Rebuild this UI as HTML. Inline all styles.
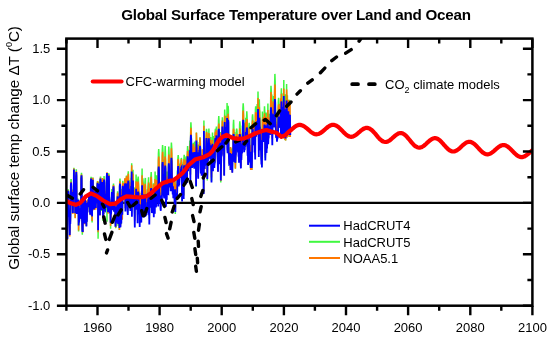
<!DOCTYPE html>
<html><head><meta charset="utf-8"><style>
html,body{margin:0;padding:0;background:#fff;width:550px;height:340px;overflow:hidden}
svg{display:block;font-family:"Liberation Sans",sans-serif;will-change:transform}
</style></head><body>
<svg width="550" height="340" viewBox="0 0 550 340">
<defs><clipPath id="pc"><rect x="66.4" y="38.6" width="466" height="267.1"/></clipPath></defs>
<g clip-path="url(#pc)">
<line x1="66.4" y1="202.9" x2="532.4" y2="202.9" stroke="#000" stroke-width="2.4"/>
<polyline points="66.4,213.5 66.7,223.7 66.9,208.7 67.2,209.4 67.4,238.3 67.7,202.7 68.0,191.6 68.2,189.4 68.5,191.6 68.7,207.8 69.0,215.1 69.3,213.7 69.5,217.5 69.8,233.0 70.0,211.6 70.3,222.2 70.6,208.4 70.8,183.9 71.1,179.1 71.3,183.9 71.6,201.9 71.9,191.9 72.1,192.3 72.4,195.3 72.6,191.0 72.9,212.1 73.2,189.3 73.4,194.1 73.7,192.8 73.9,167.8 74.2,191.9 74.5,200.8 74.7,189.6 75.0,190.6 75.2,217.7 75.5,203.0 75.8,194.3 76.0,173.9 76.3,169.4 76.5,173.9 76.8,213.1 77.1,199.2 77.3,202.2 77.6,197.9 77.8,211.6 78.1,212.8 78.4,200.3 78.6,231.5 78.9,206.2 79.1,224.4 79.4,219.8 79.7,208.9 79.9,211.9 80.2,219.1 80.4,212.2 80.7,216.4 81.0,209.6 81.2,176.7 81.5,172.9 81.7,176.7 82.0,221.2 82.3,234.7 82.5,219.8 82.8,231.9 83.0,201.6 83.3,205.5 83.6,215.3 83.8,203.6 84.1,214.6 84.3,196.4 84.6,224.0 84.9,206.9 85.1,196.3 85.4,210.6 85.6,201.4 85.9,212.4 86.2,211.5 86.4,225.7 86.7,203.8 86.9,222.0 87.2,204.4 87.5,209.3 87.7,206.4 88.0,200.8 88.2,200.0 88.5,199.3 88.8,201.9 89.0,195.1 89.3,200.7 89.5,211.3 89.8,211.9 90.1,213.6 90.3,212.8 90.6,213.5 90.8,179.7 91.1,176.8 91.4,179.7 91.6,206.5 91.9,209.9 92.1,222.4 92.4,179.3 92.7,181.5 92.9,177.5 93.2,205.0 93.4,203.7 93.7,196.2 94.0,210.0 94.2,206.3 94.5,195.3 94.7,206.9 95.0,188.1 95.3,189.4 95.5,194.4 95.8,207.7 96.0,203.4 96.3,190.4 96.6,202.8 96.8,191.8 97.1,194.1 97.3,183.7 97.6,181.2 97.9,183.7 98.1,238.8 98.4,198.8 98.6,181.8 98.9,191.6 99.2,184.7 99.4,195.4 99.7,192.4 99.9,215.1 100.2,179.7 100.5,176.5 100.7,179.7 101.0,184.9 101.2,204.2 101.5,203.8 101.8,210.9 102.0,202.0 102.3,207.5 102.5,180.0 102.8,205.8 103.1,221.1 103.3,207.5 103.6,214.6 103.8,180.9 104.1,176.1 104.4,180.9 104.6,192.4 104.9,208.7 105.1,210.7 105.4,206.8 105.7,197.2 105.9,202.7 106.2,192.6 106.4,210.3 106.7,174.8 107.0,221.8 107.2,174.8 107.5,207.6 107.7,196.3 108.0,212.0 108.3,198.0 108.5,177.5 108.8,173.2 109.0,177.5 109.3,196.5 109.6,199.7 109.8,212.6 110.1,202.6 110.3,203.3 110.6,228.8 110.9,210.8 111.1,215.6 111.4,203.1 111.6,202.8 111.9,188.9 112.2,206.5 112.4,203.4 112.7,207.4 112.9,205.9 113.2,186.5 113.5,183.5 113.7,186.5 114.0,211.2 114.2,202.5 114.5,203.0 114.8,212.0 115.0,204.2 115.3,215.9 115.5,225.7 115.8,228.2 116.1,202.7 116.3,210.0 116.6,211.1 116.8,219.1 117.1,212.6 117.4,195.3 117.6,191.4 117.9,195.3 118.1,225.7 118.4,213.5 118.7,208.8 118.9,215.1 119.2,219.4 119.4,230.1 119.7,182.5 120.0,178.6 120.2,182.5 120.5,222.4 120.7,214.2 121.0,215.8 121.3,224.1 121.5,202.4 121.8,189.0 122.0,199.5 122.3,218.9 122.6,183.9 122.8,180.7 123.1,183.9 123.3,190.9 123.6,190.0 123.9,189.9 124.1,183.8 124.4,184.6 124.6,193.4 124.9,178.4 125.2,187.3 125.4,208.2 125.7,185.3 125.9,182.9 126.2,179.4 126.5,175.5 126.7,181.0 127.0,189.9 127.2,193.5 127.5,204.0 127.8,212.9 128.0,175.9 128.3,171.2 128.5,175.9 128.8,195.6 129.1,180.0 129.3,196.8 129.6,190.8 129.8,191.3 130.1,197.2 130.4,204.9 130.6,189.4 130.9,188.2 131.1,179.1 131.4,179.3 131.7,163.2 131.9,207.7 132.2,188.5 132.4,183.5 132.7,182.4 133.0,169.8 133.2,187.1 133.5,189.9 133.7,188.0 134.0,192.6 134.3,187.5 134.5,201.4 134.8,218.2 135.0,189.7 135.3,187.6 135.6,189.7 135.8,199.2 136.1,174.5 136.3,197.6 136.6,191.5 136.9,178.7 137.1,191.7 137.4,192.7 137.6,215.2 137.9,179.8 138.2,176.5 138.4,179.8 138.7,189.3 138.9,202.3 139.2,198.7 139.5,192.8 139.7,220.7 140.0,199.1 140.2,200.3 140.5,198.2 140.8,195.9 141.0,203.8 141.3,209.5 141.5,194.8 141.8,192.4 142.1,168.5 142.3,200.4 142.6,181.8 142.8,178.2 143.1,181.8 143.4,202.8 143.6,203.9 143.9,202.8 144.1,205.0 144.4,205.7 144.7,205.7 144.9,182.2 145.2,178.7 145.4,178.1 145.7,206.3 146.0,198.8 146.2,205.2 146.5,200.8 146.7,197.7 147.0,194.9 147.3,199.8 147.5,189.1 147.8,199.6 148.0,187.5 148.3,182.4 148.6,177.2 148.8,203.1 149.1,184.0 149.3,218.8 149.6,186.6 149.9,191.5 150.1,197.2 150.4,182.4 150.6,189.7 150.9,176.2 151.2,172.1 151.4,176.2 151.7,191.0 151.9,204.2 152.2,195.2 152.5,199.7 152.7,194.6 153.0,197.8 153.2,193.3 153.5,183.2 153.8,208.5 154.0,190.6 154.3,199.4 154.5,198.6 154.8,200.9 155.1,171.5 155.3,195.0 155.6,193.9 155.8,198.4 156.1,193.9 156.4,179.3 156.6,175.4 156.9,179.3 157.1,190.0 157.4,192.0 157.7,185.8 157.9,184.2 158.2,196.9 158.4,154.0 158.7,149.1 159.0,154.0 159.2,181.4 159.5,184.3 159.7,192.7 160.0,191.8 160.3,189.5 160.5,200.5 160.8,203.2 161.0,181.5 161.3,184.8 161.6,194.3 161.8,188.2 162.1,182.7 162.3,150.0 162.6,145.0 162.9,150.0 163.1,179.9 163.4,159.6 163.6,170.0 163.9,184.0 164.2,189.1 164.4,184.9 164.7,186.5 164.9,154.7 165.2,146.1 165.5,154.7 165.7,180.8 166.0,199.3 166.2,183.4 166.5,194.1 166.8,189.3 167.0,171.5 167.3,184.0 167.5,183.4 167.8,178.7 168.1,184.2 168.3,186.0 168.6,153.0 168.8,146.6 169.1,153.0 169.4,176.8 169.6,175.5 169.9,179.4 170.1,177.5 170.4,170.1 170.7,183.1 170.9,177.7 171.2,147.6 171.4,142.5 171.7,147.6 172.0,170.7 172.2,179.1 172.5,182.4 172.7,187.3 173.0,177.9 173.3,191.5 173.5,189.4 173.8,185.5 174.0,190.3 174.3,187.0 174.6,198.2 174.8,183.0 175.1,179.7 175.3,214.1 175.6,196.4 175.9,189.6 176.1,190.1 176.4,188.0 176.6,184.3 176.9,194.0 177.2,188.1 177.4,170.4 177.7,173.4 177.9,158.4 178.2,155.0 178.5,158.4 178.7,180.5 179.0,173.1 179.2,180.8 179.5,170.5 179.8,163.6 180.0,172.0 180.3,167.9 180.5,166.9 180.8,166.1 181.1,160.8 181.3,158.0 181.6,159.2 181.8,172.0 182.1,200.6 182.4,174.6 182.6,177.8 182.9,193.0 183.1,178.2 183.4,162.3 183.7,195.2 183.9,159.4 184.2,154.8 184.4,159.4 184.7,157.2 185.0,170.4 185.2,172.7 185.5,180.7 185.7,167.9 186.0,171.2 186.3,156.1 186.5,165.3 186.8,178.5 187.0,180.3 187.3,153.1 187.6,146.1 187.8,153.1 188.1,168.4 188.3,160.4 188.6,160.6 188.9,155.4 189.1,149.7 189.4,160.3 189.6,150.2 189.9,140.4 190.2,152.0 190.4,174.3 190.7,127.7 190.9,122.4 191.2,127.7 191.5,151.7 191.7,157.5 192.0,157.2 192.2,162.4 192.5,156.4 192.8,153.8 193.0,146.2 193.3,142.8 193.5,147.8 193.8,161.0 194.1,160.6 194.3,163.2 194.6,141.6 194.8,155.5 195.1,147.1 195.4,144.4 195.6,147.1 195.9,146.1 196.1,186.7 196.4,132.4 196.7,141.8 196.9,150.2 197.2,148.0 197.4,150.3 197.7,153.3 198.0,158.4 198.2,176.9 198.5,145.1 198.7,157.5 199.0,154.6 199.3,142.1 199.5,147.0 199.8,140.7 200.0,137.4 200.3,140.7 200.6,162.4 200.8,171.1 201.1,156.2 201.3,164.9 201.6,173.6 201.9,154.0 202.1,167.0 202.4,149.8 202.6,163.5 202.9,172.0 203.2,153.0 203.4,164.1 203.7,193.1 203.9,120.4 204.2,153.8 204.5,155.3 204.7,165.4 205.0,151.7 205.2,158.8 205.5,161.4 205.8,154.6 206.0,147.7 206.3,132.7 206.5,128.8 206.8,131.7 207.1,134.8 207.3,180.4 207.6,156.9 207.8,147.0 208.1,143.7 208.4,154.2 208.6,153.1 208.9,128.6 209.1,137.3 209.4,134.1 209.7,137.3 209.9,152.7 210.2,141.0 210.4,148.4 210.7,137.1 211.0,147.3 211.2,156.5 211.5,181.2 211.7,154.1 212.0,146.0 212.3,145.9 212.5,132.4 212.8,163.9 213.0,165.1 213.3,135.9 213.6,147.0 213.8,157.2 214.1,155.5 214.3,165.2 214.6,159.3 214.9,157.9 215.1,131.7 215.4,128.8 215.6,131.7 215.9,128.5 216.2,135.2 216.4,126.4 216.7,138.7 216.9,135.5 217.2,141.6 217.5,152.1 217.7,157.3 218.0,168.7 218.2,147.1 218.5,121.0 218.8,116.1 219.0,121.0 219.3,144.5 219.5,153.1 219.8,161.6 220.1,154.9 220.3,141.0 220.6,132.1 220.8,182.4 221.1,163.5 221.4,148.7 221.6,154.2 221.9,150.4 222.1,124.5 222.4,117.2 222.7,124.5 222.9,145.9 223.2,145.7 223.4,142.4 223.7,136.5 224.0,145.4 224.2,174.5 224.5,123.0 224.7,109.5 225.0,119.1 225.3,130.6 225.5,132.2 225.8,132.0 226.0,130.7 226.3,115.7 226.6,121.3 226.8,122.1 227.1,103.0 227.3,142.5 227.6,146.5 227.9,110.0 228.1,105.9 228.4,110.0 228.6,146.6 228.9,152.3 229.2,162.8 229.4,162.8 229.7,152.8 229.9,152.2 230.2,147.4 230.5,167.9 230.7,148.3 231.0,156.6 231.2,150.9 231.5,154.2 231.8,148.5 232.0,151.3 232.3,171.3 232.5,158.2 232.8,147.7 233.1,154.4 233.3,125.1 233.6,119.8 233.8,125.1 234.1,143.5 234.4,159.8 234.6,132.0 234.9,154.0 235.1,157.1 235.4,168.8 235.7,151.6 235.9,151.0 236.2,139.0 236.4,130.6 236.7,128.5 237.0,130.6 237.2,135.7 237.5,137.6 237.7,136.7 238.0,142.8 238.3,134.5 238.5,148.5 238.8,149.9 239.0,155.5 239.3,157.6 239.6,124.7 239.8,121.3 240.1,124.7 240.3,146.9 240.6,156.4 240.9,165.7 241.1,140.6 241.4,155.9 241.6,145.5 241.9,134.3 242.2,145.7 242.4,125.4 242.7,135.5 242.9,108.3 243.2,103.3 243.5,108.3 243.7,141.1 244.0,135.2 244.2,143.5 244.5,123.2 244.8,140.9 245.0,128.3 245.3,139.4 245.5,134.9 245.8,117.8 246.1,134.8 246.3,122.2 246.6,116.6 246.8,111.2 247.1,116.6 247.4,135.0 247.6,149.2 247.9,141.4 248.1,159.9 248.4,147.4 248.7,141.6 248.9,125.5 249.2,122.8 249.4,125.5 249.7,147.0 250.0,153.5 250.2,154.4 250.5,157.0 250.7,170.0 251.0,149.6 251.3,146.8 251.5,144.8 251.8,170.1 252.0,153.7 252.3,117.4 252.6,114.4 252.8,117.4 253.1,124.4 253.3,125.7 253.6,137.2 253.9,122.8 254.1,121.3 254.4,132.5 254.6,144.2 254.9,129.3 255.2,154.9 255.4,110.4 255.7,106.4 255.9,110.4 256.2,121.8 256.5,114.5 256.7,119.2 257.0,111.2 257.2,104.1 257.5,110.2 257.8,112.6 258.0,91.5 258.3,108.4 258.5,114.5 258.8,148.8 259.1,113.0 259.3,99.3 259.6,112.9 259.8,110.5 260.1,125.7 260.4,144.8 260.6,132.1 260.9,128.6 261.1,144.3 261.4,160.4 261.7,135.5 261.9,166.9 262.2,140.8 262.4,111.5 262.7,124.3 263.0,119.2 263.2,118.6 263.5,127.2 263.7,123.4 264.0,132.4 264.3,111.9 264.5,106.2 264.8,111.9 265.0,123.6 265.3,157.7 265.6,142.1 265.8,115.0 266.1,112.6 266.3,114.8 266.6,146.1 266.9,128.2 267.1,142.5 267.4,121.0 267.6,122.4 267.9,103.4 268.2,134.4 268.4,127.8 268.7,123.0 268.9,116.1 269.2,113.8 269.5,116.1 269.7,120.7 270.0,123.0 270.2,120.7 270.5,112.4 270.8,91.2 271.0,85.8 271.3,91.5 271.5,109.7 271.8,94.4 272.1,121.8 272.3,136.1 272.6,106.1 272.8,111.3 273.1,108.7 273.4,104.4 273.6,95.9 273.9,112.8 274.1,100.6 274.4,100.5 274.7,81.9 274.9,73.9 275.2,81.9 275.4,108.7 275.7,113.4 276.0,125.3 276.2,124.8 276.5,126.5 276.7,125.5 277.0,131.6 277.3,121.4 277.5,129.8 277.8,117.3 278.0,126.5 278.3,102.1 278.6,97.7 278.8,102.1 279.1,107.5 279.3,103.8 279.6,106.7 279.9,112.2 280.1,112.6 280.4,110.0 280.6,111.9 280.9,136.0 281.2,93.4 281.4,88.2 281.7,110.2 281.9,137.1 282.2,114.0 282.5,137.2 282.7,109.1 283.0,137.1 283.2,93.2 283.5,137.8 283.8,80.0 284.0,138.6 284.3,111.4 284.5,138.0 284.8,111.2 285.1,140.1 285.3,94.2 285.6,140.6 285.8,112.8 286.1,136.5 286.4,115.5 286.6,84.1 286.9,113.1 287.1,137.6 287.4,95.2 287.7,134.6 287.9,114.3 288.2,134.4 288.4,113.3 288.7,134.8 289.0,117.2 289.2,137.1 289.5,99.7 289.7,133.7 290.0,116.9 290.3,136.9" fill="none" stroke="#40f840" stroke-width="1.5"/>
<polyline points="66.4,217.3 66.7,221.9 66.9,209.2 67.2,207.7 67.4,240.1 67.7,200.8 68.0,192.7 68.2,190.5 68.5,192.7 68.7,208.7 69.0,214.7 69.3,213.1 69.5,216.9 69.8,236.5 70.0,213.5 70.3,223.2 70.6,210.5 70.8,185.2 71.1,181.9 71.3,185.2 71.6,203.3 71.9,190.4 72.1,194.7 72.4,195.5 72.6,190.4 72.9,214.1 73.2,190.7 73.4,194.6 73.7,190.7 73.9,168.6 74.2,190.6 74.5,197.7 74.7,187.3 75.0,193.2 75.2,218.2 75.5,201.6 75.8,197.9 76.0,175.5 76.3,171.2 76.5,175.5 76.8,213.8 77.1,202.0 77.3,204.3 77.6,201.2 77.8,209.2 78.1,212.6 78.4,200.5 78.6,230.6 78.9,203.2 79.1,222.4 79.4,218.2 79.7,209.8 79.9,213.1 80.2,218.4 80.4,214.6 80.7,217.7 81.0,211.6 81.2,178.2 81.5,174.5 81.7,178.2 82.0,219.0 82.3,230.5 82.5,221.4 82.8,232.5 83.0,202.7 83.3,203.7 83.6,216.1 83.8,205.6 84.1,214.8 84.3,202.6 84.6,224.3 84.9,202.9 85.1,195.0 85.4,207.2 85.6,199.9 85.9,212.4 86.2,212.1 86.4,225.9 86.7,205.0 86.9,220.8 87.2,200.6 87.5,204.8 87.7,204.8 88.0,204.8 88.2,199.6 88.5,202.2 88.8,202.4 89.0,195.0 89.3,201.3 89.5,211.7 89.8,210.7 90.1,214.3 90.3,213.1 90.6,215.1 90.8,180.8 91.1,178.2 91.4,180.8 91.6,204.8 91.9,210.6 92.1,220.9 92.4,181.2 92.7,184.2 92.9,177.7 93.2,210.2 93.4,201.8 93.7,195.4 94.0,209.8 94.2,202.2 94.5,199.6 94.7,204.3 95.0,190.3 95.3,189.8 95.5,197.0 95.8,209.7 96.0,203.0 96.3,195.8 96.6,203.9 96.8,192.0 97.1,199.5 97.3,184.8 97.6,181.4 97.9,184.8 98.1,232.3 98.4,194.8 98.6,184.7 98.9,196.7 99.2,185.1 99.4,196.6 99.7,192.0 99.9,215.6 100.2,181.0 100.5,177.9 100.7,181.0 101.0,186.8 101.2,206.0 101.5,203.0 101.8,210.0 102.0,202.8 102.3,208.9 102.5,178.1 102.8,205.4 103.1,218.8 103.3,209.4 103.6,216.0 103.8,182.2 104.1,179.0 104.4,182.2 104.6,193.4 104.9,210.5 105.1,211.3 105.4,204.8 105.7,196.6 105.9,201.7 106.2,191.0 106.4,208.0 106.7,176.3 107.0,172.3 107.2,176.3 107.5,207.9 107.7,198.7 108.0,213.8 108.3,198.9 108.5,179.0 108.8,174.9 109.0,179.0 109.3,198.1 109.6,201.8 109.8,212.7 110.1,207.9 110.3,205.2 110.6,225.9 110.9,207.0 111.1,217.2 111.4,204.4 111.6,203.1 111.9,194.2 112.2,205.6 112.4,201.7 112.7,209.0 112.9,206.0 113.2,187.9 113.5,185.0 113.7,187.9 114.0,210.8 114.2,205.6 114.5,201.6 114.8,209.9 115.0,210.5 115.3,215.4 115.5,225.0 115.8,227.3 116.1,203.3 116.3,206.8 116.6,213.3 116.8,220.1 117.1,212.6 117.4,196.3 117.6,192.8 117.9,196.3 118.1,222.8 118.4,215.3 118.7,212.6 118.9,218.1 119.2,215.9 119.4,230.1 119.7,184.1 120.0,181.2 120.2,184.1 120.5,225.4 120.7,217.0 121.0,216.2 121.3,219.1 121.5,203.8 121.8,190.5 122.0,197.3 122.3,219.7 122.6,185.4 122.8,182.9 123.1,185.4 123.3,190.4 123.6,191.0 123.9,190.1 124.1,186.7 124.4,183.5 124.6,196.0 124.9,178.3 125.2,186.9 125.4,208.2 125.7,184.7 125.9,184.7 126.2,181.9 126.5,176.4 126.7,182.0 127.0,195.1 127.2,197.0 127.5,207.6 127.8,210.6 128.0,178.7 128.3,173.7 128.5,178.7 128.8,198.2 129.1,182.1 129.3,195.0 129.6,194.9 129.8,192.7 130.1,198.0 130.4,207.7 130.6,194.6 130.9,189.1 131.1,182.3 131.4,182.1 131.7,165.2 131.9,206.6 132.2,192.0 132.4,184.6 132.7,189.7 133.0,173.4 133.2,189.9 133.5,187.2 133.7,192.5 134.0,195.5 134.3,190.9 134.5,200.9 134.8,220.7 135.0,192.4 135.3,189.5 135.6,192.4 135.8,201.2 136.1,181.2 136.3,200.8 136.6,195.4 136.9,182.2 137.1,194.1 137.4,193.4 137.6,209.4 137.9,184.3 138.2,181.6 138.4,184.3 138.7,191.5 138.9,204.4 139.2,194.7 139.5,192.8 139.7,217.0 140.0,203.2 140.2,201.2 140.5,200.0 140.8,202.5 141.0,204.7 141.3,212.7 141.5,191.9 141.8,190.3 142.1,175.3 142.3,201.3 142.6,186.1 142.8,182.5 143.1,186.1 143.4,205.7 143.6,205.4 143.9,203.7 144.1,203.8 144.4,206.1 144.7,206.9 144.9,186.3 145.2,183.9 145.4,186.3 145.7,205.6 146.0,202.5 146.2,200.8 146.5,202.7 146.7,200.4 147.0,196.1 147.3,200.6 147.5,190.3 147.8,204.8 148.0,190.4 148.3,187.2 148.6,182.6 148.8,202.2 149.1,188.6 149.3,216.0 149.6,189.7 149.9,195.6 150.1,197.3 150.4,188.4 150.6,191.7 150.9,180.5 151.2,176.7 151.4,180.5 151.7,194.5 151.9,203.8 152.2,191.2 152.5,198.2 152.7,194.4 153.0,200.2 153.2,194.1 153.5,184.2 153.8,205.2 154.0,192.3 154.3,199.0 154.5,196.8 154.8,200.1 155.1,179.0 155.3,195.3 155.6,197.2 155.8,199.1 156.1,195.6 156.4,182.1 156.6,180.1 156.9,182.1 157.1,190.1 157.4,192.6 157.7,186.9 157.9,184.1 158.2,197.8 158.4,160.7 158.7,156.5 159.0,160.7 159.2,181.3 159.5,186.0 159.7,193.1 160.0,187.8 160.3,190.5 160.5,199.9 160.8,199.0 161.0,188.3 161.3,184.9 161.6,189.1 161.8,190.7 162.1,183.9 162.3,156.6 162.6,151.7 162.9,156.6 163.1,183.9 163.4,164.3 163.6,173.1 163.9,185.9 164.2,187.1 164.4,180.9 164.7,184.7 164.9,160.2 165.2,156.5 165.5,160.2 165.7,183.1 166.0,196.2 166.2,185.9 166.5,188.5 166.8,190.7 167.0,176.4 167.3,183.9 167.5,185.2 167.8,178.8 168.1,184.8 168.3,187.0 168.6,158.4 168.8,154.6 169.1,158.4 169.4,176.2 169.6,179.7 169.9,176.4 170.1,176.6 170.4,174.6 170.7,181.4 170.9,178.9 171.2,153.6 171.4,148.3 171.7,153.6 172.0,172.0 172.2,180.1 172.5,183.1 172.7,188.0 173.0,179.2 173.3,191.3 173.5,187.7 173.8,187.0 174.0,186.7 174.3,185.8 174.6,199.0 174.8,184.4 175.1,182.2 175.3,210.6 175.6,195.1 175.9,189.5 176.1,186.6 176.4,187.1 176.6,186.5 176.9,194.1 177.2,185.1 177.4,175.4 177.7,173.6 177.9,161.9 178.2,159.0 178.5,161.9 178.7,179.6 179.0,178.2 179.2,180.1 179.5,170.2 179.8,168.0 180.0,169.3 180.3,166.9 180.5,167.6 180.8,162.9 181.1,163.6 181.3,159.4 181.6,161.2 181.8,177.5 182.1,196.2 182.4,173.6 182.6,179.3 182.9,189.5 183.1,174.7 183.4,167.1 183.7,195.5 183.9,161.8 184.2,159.0 184.4,161.8 184.7,160.7 185.0,173.1 185.2,172.3 185.5,178.9 185.7,165.5 186.0,168.7 186.3,160.1 186.5,167.7 186.8,176.0 187.0,176.7 187.3,155.7 187.6,151.0 187.8,155.7 188.1,165.6 188.3,157.0 188.6,159.5 188.9,157.5 189.1,154.4 189.4,161.1 189.6,151.9 189.9,145.5 190.2,154.4 190.4,175.1 190.7,132.6 190.9,127.9 191.2,132.6 191.5,155.0 191.7,160.9 192.0,158.6 192.2,163.2 192.5,157.3 192.8,156.3 193.0,149.6 193.3,144.1 193.5,150.9 193.8,162.8 194.1,160.2 194.3,165.0 194.6,147.2 194.8,158.8 195.1,149.3 195.4,146.3 195.6,149.3 195.9,151.8 196.1,184.9 196.4,132.7 196.7,142.6 196.9,149.2 197.2,149.9 197.4,152.0 197.7,157.0 198.0,155.7 198.2,177.4 198.5,147.6 198.7,153.7 199.0,155.5 199.3,143.9 199.5,149.4 199.8,143.1 200.0,137.6 200.3,143.1 200.6,165.0 200.8,172.6 201.1,160.1 201.3,166.5 201.6,173.6 201.9,155.1 202.1,164.5 202.4,149.3 202.6,165.6 202.9,174.3 203.2,158.6 203.4,160.9 203.7,193.4 203.9,125.8 204.2,152.7 204.5,156.2 204.7,169.3 205.0,154.9 205.2,159.0 205.5,164.7 205.8,160.1 206.0,150.4 206.3,135.7 206.5,132.2 206.8,132.9 207.1,138.3 207.3,178.4 207.6,159.3 207.8,150.8 208.1,145.3 208.4,153.1 208.6,152.7 208.9,132.9 209.1,140.4 209.4,137.6 209.7,140.4 209.9,157.4 210.2,142.2 210.4,152.4 210.7,139.9 211.0,148.7 211.2,162.5 211.5,177.4 211.7,155.3 212.0,149.3 212.3,146.2 212.5,140.0 212.8,164.5 213.0,168.4 213.3,144.6 213.6,150.0 213.8,161.8 214.1,158.2 214.3,164.6 214.6,161.6 214.9,160.5 215.1,135.9 215.4,132.1 215.6,135.9 215.9,131.6 216.2,136.2 216.4,129.9 216.7,141.4 216.9,137.9 217.2,143.5 217.5,152.0 217.7,161.4 218.0,171.7 218.2,150.3 218.5,126.3 218.8,123.5 219.0,126.3 219.3,148.0 219.5,159.4 219.8,162.3 220.1,156.2 220.3,144.1 220.6,133.1 220.8,180.9 221.1,163.1 221.4,151.1 221.6,153.0 221.9,154.2 222.1,129.7 222.4,120.6 222.7,129.7 222.9,149.3 223.2,147.1 223.4,143.3 223.7,140.5 224.0,147.1 224.2,175.0 224.5,127.6 224.7,115.8 225.0,126.7 225.3,135.7 225.5,136.8 225.8,137.1 226.0,135.5 226.3,121.6 226.6,127.8 226.8,128.5 227.1,116.6 227.3,146.3 227.6,149.6 227.9,117.2 228.1,113.9 228.4,117.2 228.6,147.8 228.9,154.1 229.2,163.8 229.4,163.4 229.7,155.3 229.9,154.5 230.2,151.4 230.5,170.0 230.7,147.0 231.0,158.0 231.2,152.8 231.5,158.0 231.8,151.1 232.0,155.6 232.3,172.5 232.5,159.5 232.8,150.0 233.1,160.5 233.3,130.7 233.6,128.7 233.8,130.7 234.1,150.6 234.4,156.1 234.6,140.3 234.9,155.2 235.1,157.0 235.4,168.4 235.7,152.8 235.9,150.8 236.2,143.4 236.4,135.6 236.7,134.0 237.0,135.6 237.2,140.1 237.5,142.1 237.7,142.3 238.0,148.4 238.3,134.5 238.5,150.4 238.8,154.9 239.0,158.3 239.3,159.4 239.6,130.4 239.8,128.3 240.1,130.4 240.3,152.2 240.6,158.3 240.9,167.8 241.1,140.5 241.4,158.2 241.6,143.3 241.9,136.7 242.2,150.8 242.4,132.8 242.7,139.0 242.9,115.8 243.2,110.5 243.5,115.8 243.7,140.9 244.0,137.4 244.2,146.5 244.5,131.9 244.8,146.7 245.0,132.8 245.3,144.2 245.5,135.6 245.8,122.1 246.1,135.9 246.3,130.7 246.6,122.9 246.8,119.0 247.1,122.9 247.4,136.9 247.6,153.3 247.9,146.3 248.1,164.1 248.4,152.2 248.7,139.8 248.9,130.4 249.2,128.0 249.4,130.4 249.7,152.8 250.0,156.2 250.2,160.3 250.5,155.8 250.7,170.0 251.0,152.0 251.3,145.2 251.5,149.4 251.8,170.1 252.0,155.1 252.3,122.8 252.6,120.4 252.8,122.8 253.1,130.8 253.3,129.5 253.6,139.6 253.9,128.9 254.1,126.6 254.4,137.2 254.6,145.4 254.9,135.3 255.2,153.8 255.4,116.1 255.7,112.0 255.9,116.1 256.2,131.1 256.5,121.1 256.7,124.0 257.0,118.4 257.2,112.7 257.5,115.5 257.8,119.7 258.0,98.1 258.3,111.8 258.5,118.6 258.8,150.7 259.1,118.6 259.3,107.1 259.6,119.0 259.8,117.4 260.1,129.9 260.4,143.8 260.6,135.4 260.9,129.6 261.1,144.6 261.4,158.7 261.7,135.3 261.9,164.2 262.2,140.3 262.4,119.4 262.7,128.3 263.0,122.0 263.2,117.1 263.5,130.1 263.7,127.3 264.0,136.5 264.3,116.3 264.5,113.3 264.8,116.3 265.0,124.9 265.3,155.1 265.6,144.5 265.8,118.9 266.1,117.0 266.3,118.9 266.6,145.1 266.9,135.5 267.1,142.6 267.4,125.2 267.6,123.0 267.9,110.0 268.2,136.9 268.4,129.3 268.7,132.4 268.9,119.9 269.2,117.7 269.5,119.9 269.7,125.6 270.0,127.5 270.2,122.8 270.5,118.1 270.8,98.2 271.0,92.0 271.3,98.2 271.5,113.7 271.8,100.9 272.1,127.7 272.3,138.7 272.6,108.4 272.8,114.7 273.1,114.7 273.4,107.9 273.6,101.8 273.9,117.6 274.1,102.7 274.4,109.9 274.7,89.7 274.9,84.5 275.2,89.7 275.4,112.2 275.7,115.1 276.0,128.5 276.2,129.2 276.5,127.9 276.7,130.9 277.0,135.6 277.3,123.5 277.5,129.7 277.8,122.8 278.0,128.5 278.3,107.6 278.6,104.3 278.8,107.6 279.1,109.6 279.3,108.9 279.6,110.6 279.9,113.5 280.1,116.6 280.4,116.3 280.6,98.2 280.9,136.0 281.2,114.2 281.4,93.8 281.7,110.2 281.9,137.1 282.2,101.9 282.5,137.2 282.7,109.1 283.0,137.1 283.2,113.1 283.5,137.8 283.8,88.5 284.0,138.6 284.3,111.4 284.5,138.0 284.8,111.2 285.1,140.1 285.3,101.8 285.6,140.6 285.8,112.8 286.1,136.5 286.4,115.5 286.6,89.5 286.9,97.4 287.1,137.6 287.4,113.6 287.7,134.6 287.9,114.3 288.2,134.4 288.4,99.8 288.7,134.8 289.0,117.2 289.2,137.1 289.5,116.4 289.7,133.7 290.0,103.5 290.3,136.9" fill="none" stroke="#ff7700" stroke-width="1.5"/>
<polyline points="66.4,215.1 66.7,222.7 66.9,210.6 67.2,209.5 67.4,238.9 67.7,200.2 68.0,193.0 68.2,190.9 68.5,193.0 68.7,207.5 69.0,216.9 69.3,213.2 69.5,216.7 69.8,234.9 70.0,213.9 70.3,224.0 70.6,211.3 70.8,185.7 71.1,182.6 71.3,185.7 71.6,202.8 71.9,192.5 72.1,195.8 72.4,197.4 72.6,192.5 72.9,213.0 73.2,192.0 73.4,194.3 73.7,193.0 73.9,169.4 74.2,193.7 74.5,198.8 74.7,188.6 75.0,192.8 75.2,213.2 75.5,202.2 75.8,196.9 76.0,176.3 76.3,172.0 76.5,176.3 76.8,214.0 77.1,202.8 77.3,204.1 77.6,202.2 77.8,208.7 78.1,211.0 78.4,199.5 78.6,225.6 78.9,205.5 79.1,222.4 79.4,218.4 79.7,208.2 79.9,213.8 80.2,218.6 80.4,213.5 80.7,218.4 81.0,211.9 81.2,178.8 81.5,175.2 81.7,178.8 82.0,218.5 82.3,231.7 82.5,220.4 82.8,232.0 83.0,202.6 83.3,204.7 83.6,216.1 83.8,206.0 84.1,214.2 84.3,200.6 84.6,223.5 84.9,205.6 85.1,196.8 85.4,209.7 85.6,201.4 85.9,211.5 86.2,211.5 86.4,226.5 86.7,204.7 86.9,221.8 87.2,203.0 87.5,207.1 87.7,206.2 88.0,202.6 88.2,201.9 88.5,200.3 88.8,200.4 89.0,195.6 89.3,201.5 89.5,212.6 89.8,210.7 90.1,213.2 90.3,213.0 90.6,213.4 90.8,181.2 91.1,178.7 91.4,181.2 91.6,204.9 91.9,210.0 92.1,216.4 92.4,181.1 92.7,184.3 92.9,179.7 93.2,206.8 93.4,203.4 93.7,197.0 94.0,209.4 94.2,205.4 94.5,201.0 94.7,206.8 95.0,192.2 95.3,190.4 95.5,196.7 95.8,207.9 96.0,201.9 96.3,194.3 96.6,203.1 96.8,193.1 97.1,198.0 97.3,185.2 97.6,182.9 97.9,185.2 98.1,230.3 98.4,194.8 98.6,184.1 98.9,195.6 99.2,187.7 99.4,197.0 99.7,194.2 99.9,215.3 100.2,181.5 100.5,178.5 100.7,181.5 101.0,188.6 101.2,206.2 101.5,205.1 101.8,210.0 102.0,202.1 102.3,208.6 102.5,181.9 102.8,206.1 103.1,217.9 103.3,209.0 103.6,214.2 103.8,182.8 104.1,179.7 104.4,182.8 104.6,193.6 104.9,210.0 105.1,210.3 105.4,205.9 105.7,196.7 105.9,203.9 106.2,193.7 106.4,207.3 106.7,177.0 107.0,173.1 107.2,177.0 107.5,208.1 107.7,196.6 108.0,212.2 108.3,198.1 108.5,179.6 108.8,175.9 109.0,179.6 109.3,197.9 109.6,201.4 109.8,213.2 110.1,205.4 110.3,203.2 110.6,222.8 110.9,209.0 111.1,214.2 111.4,205.8 111.6,201.9 111.9,192.1 112.2,207.8 112.4,202.0 112.7,210.2 112.9,206.0 113.2,189.0 113.5,186.3 113.7,189.0 114.0,211.8 114.2,205.0 114.5,203.2 114.8,211.5 115.0,208.1 115.3,217.8 115.5,226.7 115.8,222.2 116.1,206.5 116.3,211.5 116.6,213.0 116.8,222.6 117.1,214.9 117.4,198.0 117.6,196.3 117.9,198.0 118.1,224.0 118.4,213.2 118.7,213.2 118.9,218.7 119.2,220.1 119.4,228.1 119.7,186.4 120.0,183.7 120.2,186.4 120.5,227.2 120.7,219.2 121.0,219.2 121.3,223.6 121.5,205.3 121.8,195.4 122.0,201.9 122.3,214.7 122.6,188.1 122.8,185.9 123.1,188.1 123.3,193.1 123.6,193.8 123.9,193.2 124.1,188.6 124.4,189.8 124.6,198.6 124.9,183.4 125.2,192.3 125.4,211.4 125.7,189.2 125.9,187.8 126.2,184.3 126.5,184.4 126.7,186.5 127.0,196.3 127.2,200.1 127.5,209.7 127.8,214.9 128.0,183.3 128.3,180.7 128.5,183.3 128.8,201.8 129.1,188.8 129.3,200.9 129.6,200.1 129.8,201.3 130.1,204.4 130.4,211.0 130.6,197.4 130.9,195.6 131.1,186.0 131.4,189.7 131.7,171.4 131.9,216.8 132.2,197.5 132.4,192.4 132.7,193.3 133.0,180.5 133.2,197.2 133.5,197.8 133.7,197.9 134.0,204.0 134.3,199.2 134.5,212.5 134.8,227.4 135.0,200.1 135.3,199.1 135.6,200.1 135.8,209.4 136.1,188.8 136.3,209.8 136.6,201.9 136.9,192.1 137.1,204.6 137.4,203.9 137.6,223.2 137.9,193.4 138.2,191.6 138.4,193.4 138.7,203.2 138.9,214.3 139.2,208.6 139.5,204.0 139.7,227.1 140.0,213.1 140.2,213.5 140.5,209.6 140.8,210.5 141.0,216.4 141.3,222.6 141.5,205.4 141.8,204.4 142.1,185.3 142.3,212.2 142.6,195.8 142.8,194.4 143.1,195.8 143.4,215.3 143.6,213.6 143.9,215.0 144.1,217.3 144.4,214.9 144.7,216.8 144.9,196.0 145.2,194.6 145.4,196.0 145.7,216.3 146.0,212.5 146.2,214.6 146.5,214.4 146.7,212.2 147.0,206.9 147.3,210.8 147.5,202.2 147.8,212.7 148.0,199.9 148.3,198.6 148.6,192.9 148.8,214.8 149.1,198.3 149.3,224.4 149.6,200.7 149.9,203.2 150.1,207.7 150.4,198.5 150.6,203.8 150.9,189.9 151.2,188.2 151.4,189.9 151.7,205.7 151.9,213.1 152.2,205.5 152.5,210.4 152.7,207.8 153.0,208.5 153.2,205.4 153.5,195.4 153.8,217.3 154.0,201.2 154.3,210.1 154.5,206.8 154.8,213.7 155.1,187.5 155.3,205.0 155.6,206.7 155.8,207.4 156.1,206.1 156.4,191.3 156.6,190.2 156.9,191.3 157.1,200.8 157.4,202.7 157.7,197.9 157.9,193.1 158.2,206.5 158.4,169.7 158.7,166.6 159.0,169.7 159.2,191.8 159.5,193.3 159.7,203.9 160.0,200.5 160.3,198.3 160.5,209.0 160.8,210.8 161.0,197.0 161.3,196.4 161.6,201.0 161.8,200.7 162.1,194.3 162.3,165.3 162.6,162.0 162.9,165.3 163.1,193.3 163.4,173.9 163.6,181.4 163.9,195.9 164.2,198.4 164.4,192.2 164.7,194.3 164.9,168.6 165.2,165.7 165.5,168.6 165.7,190.5 166.0,206.8 166.2,193.1 166.5,197.8 166.8,198.1 167.0,184.3 167.3,193.0 167.5,193.2 167.8,189.1 168.1,193.4 168.3,193.6 168.6,166.3 168.8,163.3 169.1,166.3 169.4,186.2 169.6,186.3 169.9,187.3 170.1,186.1 170.4,182.2 170.7,191.3 170.9,184.5 171.2,161.3 171.4,157.8 171.7,161.3 172.0,182.0 172.2,190.0 172.5,190.0 172.7,194.5 173.0,186.2 173.3,198.2 173.5,195.9 173.8,193.7 174.0,196.2 174.3,192.9 174.6,203.4 174.8,189.5 175.1,190.1 175.3,212.1 175.6,199.6 175.9,193.4 176.1,195.7 176.4,194.4 176.6,192.8 176.9,198.6 177.2,193.0 177.4,181.3 177.7,180.9 177.9,168.4 178.2,166.1 178.5,168.4 178.7,186.5 179.0,183.0 179.2,185.3 179.5,178.5 179.8,174.3 180.0,177.9 180.3,174.6 180.5,176.1 180.8,171.5 181.1,169.5 181.3,167.5 181.6,167.0 181.8,182.1 182.1,201.5 182.4,181.2 182.6,183.6 182.9,197.7 183.1,183.3 183.4,171.9 183.7,199.0 183.9,167.3 184.2,165.4 184.4,167.3 184.7,167.3 185.0,177.5 185.2,178.7 185.5,184.9 185.7,173.1 186.0,175.8 186.3,164.6 186.5,172.3 186.8,182.6 187.0,183.0 187.3,160.9 187.6,156.2 187.8,160.9 188.1,171.1 188.3,165.9 188.6,166.9 188.9,162.4 189.1,158.7 189.4,168.1 189.6,158.8 189.9,150.4 190.2,160.5 190.4,180.2 190.7,138.9 190.9,134.8 191.2,138.9 191.5,159.1 191.7,166.7 192.0,163.9 192.2,168.0 192.5,164.5 192.8,162.9 193.0,153.7 193.3,152.4 193.5,154.8 193.8,166.9 194.1,165.1 194.3,168.6 194.6,152.0 194.8,161.7 195.1,154.2 195.4,152.2 195.6,154.2 195.9,154.1 196.1,186.2 196.4,140.5 196.7,148.8 196.9,155.4 197.2,155.0 197.4,156.6 197.7,158.2 198.0,163.0 198.2,178.8 198.5,152.2 198.7,159.4 199.0,160.2 199.3,150.1 199.5,154.3 199.8,148.2 200.0,145.8 200.3,148.2 200.6,169.1 200.8,173.4 201.1,163.4 201.3,168.1 201.6,175.6 201.9,157.8 202.1,167.9 202.4,155.3 202.6,167.9 202.9,175.8 203.2,159.4 203.4,167.5 203.7,193.9 203.9,131.0 204.2,158.9 204.5,159.9 204.7,168.9 205.0,156.8 205.2,163.9 205.5,165.7 205.8,161.9 206.0,153.6 206.3,141.1 206.5,138.1 206.8,140.1 207.1,144.5 207.3,179.1 207.6,162.6 207.8,152.4 208.1,150.6 208.4,160.7 208.6,157.2 208.9,138.3 209.1,145.3 209.4,142.9 209.7,145.3 209.9,158.7 210.2,148.0 210.4,155.3 210.7,145.3 211.0,154.7 211.2,163.4 211.5,182.6 211.7,160.0 212.0,152.8 212.3,151.1 212.5,143.8 212.8,167.2 213.0,171.2 213.3,145.7 213.6,154.1 213.8,164.7 214.1,162.7 214.3,168.0 214.6,163.2 214.9,162.3 215.1,140.3 215.4,138.2 215.6,140.3 215.9,139.2 216.2,141.3 216.4,135.4 216.7,146.7 216.9,142.0 217.2,148.3 217.5,156.1 217.7,160.9 218.0,171.7 218.2,151.6 218.5,131.1 218.8,128.8 219.0,131.1 219.3,149.3 219.5,158.0 219.8,164.3 220.1,158.1 220.3,147.5 220.6,142.5 220.8,180.4 221.1,164.6 221.4,152.7 221.6,156.2 221.9,154.8 222.1,133.8 222.4,126.5 222.7,133.8 222.9,149.4 223.2,149.2 223.4,147.9 223.7,141.8 224.0,150.2 224.2,175.7 224.5,131.9 224.7,122.1 225.0,129.7 225.3,139.5 225.5,140.2 225.8,139.9 226.0,140.4 226.3,126.9 226.6,131.1 226.8,133.6 227.1,118.0 227.3,149.6 227.6,153.1 227.9,122.6 228.1,119.9 228.4,122.6 228.6,151.1 228.9,155.9 229.2,164.2 229.4,164.0 229.7,158.2 229.9,156.4 230.2,153.1 230.5,170.1 230.7,154.9 231.0,161.7 231.2,156.8 231.5,160.7 231.8,154.0 232.0,157.0 232.3,172.8 232.5,162.1 232.8,153.3 233.1,160.4 233.3,135.6 233.6,134.0 233.8,135.6 234.1,153.5 234.4,162.0 234.6,144.2 234.9,158.9 235.1,160.1 235.4,162.8 235.7,155.5 235.9,154.7 236.2,146.4 236.4,140.3 236.7,139.2 237.0,140.3 237.2,144.4 237.5,147.1 237.7,147.5 238.0,152.4 238.3,141.2 238.5,156.1 238.8,156.5 239.0,161.9 239.3,162.5 239.6,135.7 239.8,134.2 240.1,135.7 240.3,156.0 240.6,162.8 240.9,168.4 241.1,146.5 241.4,160.1 241.6,150.8 241.9,143.6 242.2,153.4 242.4,138.8 242.7,145.2 242.9,122.8 243.2,119.9 243.5,122.8 243.7,149.3 244.0,143.6 244.2,152.2 244.5,137.2 244.8,150.2 245.0,140.0 245.3,146.8 245.5,142.3 245.8,132.1 246.1,145.2 246.3,134.8 246.6,129.6 246.8,127.5 247.1,129.6 247.4,144.5 247.6,155.8 247.9,151.5 248.1,164.9 248.4,157.1 248.7,149.0 248.9,136.7 249.2,135.6 249.4,136.7 249.7,155.2 250.0,161.0 250.2,162.6 250.5,160.2 250.7,168.0 251.0,156.2 251.3,151.7 251.5,152.9 251.8,168.1 252.0,159.7 252.3,130.4 252.6,128.8 252.8,130.4 253.1,136.9 253.3,137.3 253.6,145.2 253.9,137.9 254.1,134.3 254.4,143.4 254.6,152.4 254.9,142.9 255.2,159.6 255.4,124.8 255.7,122.8 255.9,124.8 256.2,136.6 256.5,129.4 256.7,134.8 257.0,127.4 257.2,121.1 257.5,125.5 257.8,127.3 258.0,109.0 258.3,121.4 258.5,128.3 258.8,157.0 259.1,128.4 259.3,117.8 259.6,127.7 259.8,126.5 260.1,138.6 260.4,150.2 260.6,142.4 260.9,140.2 261.1,152.2 261.4,164.6 261.7,143.3 261.9,167.6 262.2,147.7 262.4,130.3 262.7,136.0 263.0,131.1 263.2,129.6 263.5,138.6 263.7,137.8 264.0,141.9 264.3,126.0 264.5,124.7 264.8,126.0 265.0,134.5 265.3,160.6 265.6,149.1 265.8,128.2 266.1,127.3 266.3,128.2 266.6,153.1 266.9,141.0 267.1,148.6 267.4,133.1 267.6,133.7 267.9,120.1 268.2,144.1 268.4,138.7 268.7,137.6 268.9,129.1 269.2,128.3 269.5,129.1 269.7,133.5 270.0,134.9 270.2,131.6 270.5,126.6 270.8,110.2 271.0,107.3 271.3,110.2 271.5,125.8 271.8,113.2 272.1,134.7 272.3,145.3 272.6,121.4 272.8,125.8 273.1,123.9 273.4,120.2 273.6,114.2 273.9,127.4 274.1,117.5 274.4,120.1 274.7,102.8 274.9,99.1 275.2,102.8 275.4,124.2 275.7,126.5 276.0,137.0 276.2,137.8 276.5,136.6 276.7,137.0 277.0,141.7 277.3,134.0 277.5,139.3 277.8,130.0 278.0,137.8 278.3,118.6 278.6,116.5 278.8,118.6 279.1,121.5 279.3,120.4 279.6,123.2 279.9,125.9 280.1,127.8 280.4,125.8 280.6,109.9 280.9,134.0 281.2,112.2 281.4,101.4 281.7,108.2 281.9,135.1 282.2,112.0 282.5,135.2 282.7,107.1 283.0,135.1 283.2,111.1 283.5,135.8 283.8,96.0 284.0,136.6 284.3,109.4 284.5,136.0 284.8,109.2 285.1,138.1 285.3,109.6 285.6,138.6 285.8,110.8 286.1,134.5 286.4,113.5 286.6,100.6 286.9,111.1 287.1,135.6 287.4,111.6 287.7,132.6 287.9,112.3 288.2,132.4 288.4,111.3 288.7,132.8 289.0,115.2 289.2,135.1 289.5,114.4 289.7,131.7 290.0,114.9 290.3,134.9" fill="none" stroke="#0000ff" stroke-width="1.8"/>
<path d="M67.6,195.5 L72.3,198.3 M80.2,194.0 L83.5,189.7 M93.1,187.3 L97.5,190.9 M102.5,204.0 L104.0,207.1 M103.8,216.9 L105.1,223.2 M104.5,234.0 L105.8,239.4 M107.6,249.9 L106.5,252.9 M109.3,239.4 L111.9,232.3 M112.3,222.3 L114.8,216.1 M118.1,214.9 L121.2,209.9 M127.7,202.5 L130.1,206.7 M132.9,205.5 L136.4,202.4 M141.7,210.7 L143.1,215.8 M144.4,215.3 L146.8,208.5 M151.1,198.3 L155.1,195.0 M161.8,200.3 L164.4,206.4 M164.9,217.4 L166.1,222.5 M166.5,233.6 L168.1,238.1 M169.7,228.9 L171.1,222.3 M172.2,212.0 L174.2,206.1 M177.2,198.4 L180.5,194.5 M183.9,185.2 L187.4,179.1 M190.3,181.6 L192.3,187.5 M191.8,198.6 L193.2,204.5 M192.6,215.6 L194.0,221.5 M193.8,232.4 L194.8,238.3 M194.9,248.7 L195.7,254.5 M195.7,266.3 L196.4,271.3 M197.3,258.1 L197.6,262.7 M198.2,241.1 L198.5,246.3 M199.4,224.3 L198.5,230.2 M201.2,206.7 L200.0,211.8 M202.8,190.5 L200.8,196.4 M203.3,177.9 L205.2,174.2 M208.3,164.2 L213.2,160.1 M217.4,150.6 L221.9,146.8 M226.0,143.1 L228.4,139.7 M235.6,141.9 L239.5,140.3 M244.3,143.9 L246.7,141.0 M251.0,127.7 L255.6,123.7 M264.2,120.2 L265.5,119.4 L270.2,123.7 M276.4,115.7 L279.6,110.9 M286.7,106.3 L291.0,102.0 M297.0,94.1 L300.4,90.7 M307.8,83.2 L312.2,79.8 M320.4,72.7 L324.8,68.1 M331.8,60.6 L336.5,57.0 M345.7,53.2 L351.2,49.6 M359.1,41.1 L360.5,39.3" fill="none" stroke="#000" stroke-width="3.4" stroke-linecap="round" stroke-linejoin="round"/>
<path d="M64.0,200.0 L66.1,200.6 L70.0,203.0 L75.7,204.8 L80.2,202.8 L85.7,196.6 L90.7,193.4 L96.7,195.9 L103.1,200.5 L110.0,204.2 L115.5,203.6 L121.0,199.1 L126.4,196.4 L132.8,196.9 L139.2,197.5 L146.5,196.2 L150.0,194.1 L154.0,190.5 L157.1,187.6 L163.0,182.9 L170.0,180.7 L173.0,180.5 L176.9,177.8 L182.4,173.2 L188.8,165.0 L195.0,159.6 L204.1,156.9 L209.6,154.2 L212.5,151.0 L215.0,146.9 L219.0,140.0 L222.5,136.8 L226.5,134.8 L230.0,136.6 L233.1,138.2 L238.0,138.8 L244.1,138.4 L250.0,136.0 L255.1,133.5 L262.0,131.0 L266.4,130.0 L271.1,131.6 L276.6,132.8 L281.4,136.8 L285.7,134.8 L288.5,132.0 L291.2,129.9 L292.2,129.0 L293.2,128.1 L294.2,127.2 L295.2,126.5 L296.2,125.9 L297.2,125.4 L298.2,125.1 L299.2,124.9 L300.2,124.9 L301.2,125.1 L302.2,125.4 L303.2,125.9 L304.2,126.4 L305.2,127.1 L306.2,127.9 L307.2,128.7 L308.2,129.5 L309.2,130.4 L310.2,131.3 L311.2,132.1 L312.2,132.8 L313.2,133.4 L314.2,133.9 L315.2,134.2 L316.2,134.3 L317.2,134.2 L318.2,134.0 L319.2,133.7 L320.2,133.2 L321.2,132.5 L322.2,131.8 L323.2,131.0 L324.2,130.1 L325.2,129.2 L326.2,128.3 L327.2,127.5 L328.2,126.7 L329.2,126.1 L330.2,125.5 L331.2,125.1 L332.2,124.9 L333.2,124.8 L334.2,124.9 L335.2,125.2 L336.2,125.6 L337.2,126.2 L338.2,126.9 L339.2,127.8 L340.2,128.7 L341.2,129.7 L342.2,130.7 L343.2,131.8 L344.2,132.9 L345.2,133.8 L346.2,134.7 L347.2,135.4 L348.2,136.0 L349.2,136.5 L350.2,136.7 L351.2,136.8 L352.2,136.7 L353.2,136.4 L354.2,135.9 L355.2,135.4 L356.2,134.7 L357.2,133.9 L358.2,133.0 L359.2,132.1 L360.2,131.3 L361.2,130.4 L362.2,129.7 L363.2,129.0 L364.2,128.5 L365.2,128.1 L366.2,127.9 L367.2,127.9 L368.2,128.1 L369.2,128.4 L370.2,129.0 L371.2,129.7 L372.2,130.5 L373.2,131.5 L374.2,132.6 L375.2,133.7 L376.2,134.9 L377.2,136.1 L378.2,137.3 L379.2,138.4 L380.2,139.4 L381.2,140.3 L382.2,141.0 L383.2,141.5 L384.2,141.8 L385.2,142.0 L386.2,141.9 L387.2,141.7 L388.2,141.3 L389.2,140.7 L390.2,140.0 L391.2,139.2 L392.2,138.3 L393.2,137.4 L394.2,136.5 L395.2,135.7 L396.2,134.9 L397.2,134.2 L398.2,133.6 L399.2,133.3 L400.2,133.1 L401.2,133.1 L402.2,133.3 L403.2,133.7 L404.2,134.3 L405.2,135.1 L406.2,136.0 L407.2,137.1 L408.2,138.3 L409.2,139.5 L410.2,140.7 L411.2,142.0 L412.2,143.1 L413.2,144.2 L414.2,145.2 L415.2,146.1 L416.2,146.7 L417.2,147.2 L418.2,147.5 L419.2,147.7 L420.2,147.6 L421.2,147.3 L422.2,146.8 L423.2,146.2 L424.2,145.5 L425.2,144.7 L426.2,143.8 L427.2,142.8 L428.2,141.9 L429.2,141.0 L430.2,140.2 L431.2,139.5 L432.2,138.9 L433.2,138.5 L434.2,138.2 L435.2,138.2 L436.2,138.3 L437.2,138.7 L438.2,139.2 L439.2,139.9 L440.2,140.7 L441.2,141.7 L442.2,142.8 L443.2,143.9 L444.2,145.1 L445.2,146.2 L446.2,147.3 L447.2,148.3 L448.2,149.3 L449.2,150.0 L450.2,150.7 L451.2,151.2 L452.2,151.4 L453.2,151.5 L454.2,151.4 L455.2,151.2 L456.2,150.7 L457.2,150.1 L458.2,149.4 L459.2,148.6 L460.2,147.7 L461.2,146.7 L462.2,145.8 L463.2,144.9 L464.2,144.1 L465.2,143.3 L466.2,142.7 L467.2,142.2 L468.2,141.9 L469.2,141.8 L470.2,141.9 L471.2,142.1 L472.2,142.6 L473.2,143.2 L474.2,143.9 L475.2,144.8 L476.2,145.8 L477.2,146.8 L478.2,147.9 L479.2,149.0 L480.2,150.1 L481.2,151.1 L482.2,152.0 L483.2,152.8 L484.2,153.4 L485.2,153.9 L486.2,154.2 L487.2,154.3 L488.2,154.3 L489.2,154.0 L490.2,153.6 L491.2,153.1 L492.2,152.4 L493.2,151.6 L494.2,150.8 L495.2,149.9 L496.2,149.0 L497.2,148.1 L498.2,147.3 L499.2,146.6 L500.2,146.0 L501.2,145.5 L502.2,145.2 L503.2,145.1 L504.2,145.1 L505.2,145.3 L506.2,145.7 L507.2,146.3 L508.2,147.0 L509.2,147.8 L510.2,148.7 L511.2,149.7 L512.2,150.8 L513.2,151.8 L514.2,152.9 L515.2,153.8 L516.2,154.7 L517.2,155.5 L518.2,156.1 L519.2,156.6 L520.2,156.9 L521.2,157.1 L522.2,157.1 L523.2,156.9 L524.2,156.5 L525.2,156.0 L526.2,155.4 L527.2,154.6 L528.2,153.8 L529.2,153.0 L530.2,152.1 L531.2,151.2 L532.2,150.4" fill="none" stroke="#f00" stroke-width="4.2" stroke-linecap="round" stroke-linejoin="round"/>
</g>
<rect x="66.4" y="38.6" width="466" height="267.1" fill="none" stroke="#000" stroke-width="2.5"/>
<path d="M56.9,305.7H66.4 M532.4,305.7H522.9 M61.4,280.0H66.4 M532.4,280.0H527.4 M56.9,254.3H66.4 M532.4,254.3H522.9 M61.4,228.6H66.4 M532.4,228.6H527.4 M56.9,202.9H66.4 M532.4,202.9H522.9 M61.4,177.2H66.4 M532.4,177.2H527.4 M56.9,151.5H66.4 M532.4,151.5H522.9 M61.4,125.8H66.4 M532.4,125.8H527.4 M56.9,100.1H66.4 M532.4,100.1H522.9 M61.4,74.4H66.4 M532.4,74.4H527.4 M56.9,48.8H66.4 M532.4,48.8H522.9 M66.4,305.7V310.7 M66.4,38.6V43.6 M97.5,305.7V315.2 M97.5,38.6V48.1 M128.5,305.7V310.7 M128.5,38.6V43.6 M159.6,305.7V315.2 M159.6,38.6V48.1 M190.7,305.7V310.7 M190.7,38.6V43.6 M221.7,305.7V315.2 M221.7,38.6V48.1 M252.8,305.7V310.7 M252.8,38.6V43.6 M283.9,305.7V315.2 M283.9,38.6V48.1 M314.9,305.7V310.7 M314.9,38.6V43.6 M346.0,305.7V315.2 M346.0,38.6V48.1 M377.1,305.7V310.7 M377.1,38.6V43.6 M408.1,305.7V315.2 M408.1,38.6V48.1 M439.2,305.7V310.7 M439.2,38.6V43.6 M470.3,305.7V315.2 M470.3,38.6V48.1 M501.3,305.7V310.7 M501.3,38.6V43.6 M532.4,305.7V315.2 M532.4,38.6V48.1" stroke="#000" stroke-width="2.4" fill="none"/>
<text x="50.3" y="52.8" font-size="13" text-anchor="end">1.5</text>
<text x="50.3" y="104.1" font-size="13" text-anchor="end">1.0</text>
<text x="50.3" y="155.5" font-size="13" text-anchor="end">0.5</text>
<text x="50.3" y="206.9" font-size="13" text-anchor="end">0.0</text>
<text x="50.3" y="258.3" font-size="13" text-anchor="end">-0.5</text>
<text x="50.3" y="309.7" font-size="13" text-anchor="end">-1.0</text>
<text x="97.5" y="332.1" font-size="13" text-anchor="middle">1960</text>
<text x="159.6" y="332.1" font-size="13" text-anchor="middle">1980</text>
<text x="221.7" y="332.1" font-size="13" text-anchor="middle">2000</text>
<text x="283.9" y="332.1" font-size="13" text-anchor="middle">2020</text>
<text x="346.0" y="332.1" font-size="13" text-anchor="middle">2040</text>
<text x="408.1" y="332.1" font-size="13" text-anchor="middle">2060</text>
<text x="470.3" y="332.1" font-size="13" text-anchor="middle">2080</text>
<text x="532.4" y="332.1" font-size="13" text-anchor="middle">2100</text>
<text x="296" y="20" font-size="15.2" letter-spacing="-0.25" font-weight="bold" text-anchor="middle">Global Surface Temperature over Land and Ocean</text>
<text transform="translate(19.3,147.9) rotate(-90)" font-size="15.2" text-anchor="middle">Global surface temp change ΔT (<tspan font-size="9" dy="-7.5">0</tspan><tspan dy="7.5">C)</tspan></text>
<line x1="92.8" y1="81.5" x2="121.5" y2="81.5" stroke="#f00" stroke-width="4.2" stroke-linecap="round"/>
<text x="125.5" y="86" font-size="13">CFC-warming model</text>
<line x1="352.2" y1="84.2" x2="375" y2="84.2" stroke="#000" stroke-width="3.8" stroke-linecap="round" stroke-dasharray="5.8 11"/>
<text x="385" y="89" font-size="13">CO<tspan font-size="9" dy="3.6">2</tspan><tspan dy="-3.6"> climate models</tspan></text>
<line x1="309" y1="225.7" x2="340" y2="225.7" stroke="#0000ff" stroke-width="2.0"/>
<text x="343.3" y="230.4" font-size="13">HadCRUT4</text>
<line x1="309" y1="241.8" x2="340" y2="241.8" stroke="#40f840" stroke-width="2.0"/>
<text x="343.3" y="246.5" font-size="13">HadCRUT5</text>
<line x1="309" y1="258.0" x2="340" y2="258.0" stroke="#ff7700" stroke-width="2.0"/>
<text x="343.3" y="262.7" font-size="13">NOAA5.1</text>
</svg></body></html>
